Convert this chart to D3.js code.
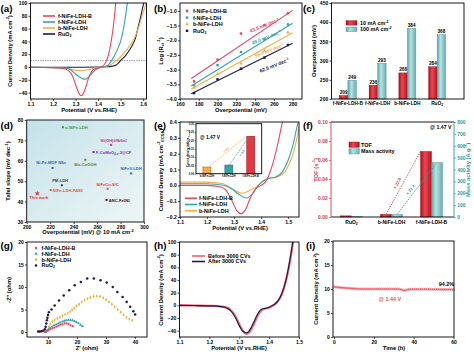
<!DOCTYPE html>
<html>
<head>
<meta charset="utf-8">
<script src="https://cdn.jsdelivr.net/npm/d3@7/dist/d3.min.js"></script>
<style>
html,body{margin:0;padding:0;background:#fff;}
svg{display:block;}
text{font-family:"Liberation Sans",Arial,Helvetica,sans-serif;font-weight:bold;}
</style>
</head>
<body>
<svg id="fig" width="474" height="355"></svg>
<script>
// ================= DATA =================
const seriesNames = ["f-NiFe-LDH-B","f-NiFe-LDH","b-NiFe-LDH","RuO2"];

// (a) LSV polarization curves
const aRedV    = [1.10,1.20,1.24,1.26,1.28,1.29,1.30,1.31,1.32,1.325,1.33,1.34,1.35,1.36,1.37,1.38,1.40,1.42,1.43,1.44,1.45,1.46,1.47,1.48,1.49];
const aRedJ    = [-0.5,-1,-2,-4,-10,-17,-27,-37,-44,-45,-44,-37,-26,-15,-8,-4,-1.5,1,5,12,25,44,70,105,140];
const aTealV   = [1.10,1.20,1.26,1.28,1.30,1.32,1.34,1.345,1.36,1.38,1.40,1.42,1.44,1.45,1.46,1.47,1.48,1.49,1.50,1.51,1.52,1.53,1.54];
const aTealJ   = [-0.5,-1,-2,-5,-11,-16,-19,-19,-15,-7,-2,0,2,5,10,16,23,31,40,55,75,100,125];
const aOrangeV = [1.10,1.20,1.26,1.28,1.30,1.33,1.36,1.38,1.40,1.42,1.44,1.46,1.48,1.50,1.52,1.54,1.555,1.57,1.58,1.59,1.60,1.61,1.62];
const aOrangeJ = [-0.5,-1,-2,-3.5,-5,-5.5,-4,-2,-0.5,0.5,1.5,4,10,16,24,33,41,52,62,73,85,96,108];
const aNavyV   = [1.10,1.20,1.30,1.40,1.44,1.46,1.48,1.49,1.50,1.52,1.54,1.555,1.565,1.575,1.585,1.595,1.60,1.61,1.62];
const aNavyJ   = [-0.5,-0.5,-0.5,0,0.3,1,3,6,10,17,27,36,44,58,72,88,96,110,124];
const aRefJ = 10;

// (b) Tafel-like plot
const bEta    = [175,200,225,250,275];
const bRed    = [-3.40,-2.66,-1.77,-1.48,-1.08];
const bTeal   = [-3.53,-2.85,-2.40,-1.97,-1.46];
const bOrange = [-3.61,-3.15,-2.79,-2.35,-1.73];
const bNavy   = [-3.80,-3.33,-2.97,-2.59,-2.16];
const bFitEta = [172,280];
const bRedFit = [-3.30,-0.98];
const bTealFit = [-3.56,-1.42];
const bOrangeFit = [-3.66,-1.74];
const bNavyFit = [-3.82,-2.10];
const bSlopes = ["43.5","49.0","55.4","62.5"];

// (c) overpotential bars
const cCats = ["f-NiFe-LDH-B","f-NiFe-LDH","b-NiFe-LDH","RuO2"];
const c10  = [209,236,268,284];
const c100 = [249,293,384,368];

// (d) comparison scatter
const dNames = ["This work","α-NiFe-LDH","Ni(OH)2/NiSe2","F-CoMoO4-x-3@CF","Ni-Fe-MOF NSs","Mo-CoOOH","NiFeV-LDH","PM-LDH","NiFe-LDH-PA80","NiFeCo-S/C","ANC-Fe5N2"];
const dEta   = [209,231,272,257,222,250,289,230,220.5,269,268];
const dTafel = [44,76.5,67.8,64.3,56.5,60.5,53.8,48,45.7,46.3,40.8];

// (e) ECSA-normalized LSV
const eRedV    = [1.10,1.20,1.25,1.27,1.29,1.31,1.325,1.34,1.36,1.38,1.40,1.42,1.43,1.44,1.45,1.46,1.47,1.48,1.49];
const eRedJ    = [0.0,0.0,-0.01,-0.03,-0.09,-0.16,-0.18,-0.16,-0.08,-0.02,0.0,0.03,0.07,0.12,0.18,0.25,0.33,0.41,0.5];
const eTealV   = [1.10,1.20,1.26,1.29,1.32,1.345,1.37,1.39,1.41,1.43,1.45,1.47,1.48,1.49,1.50,1.51,1.52,1.53,1.54];
const eTealJ   = [0.01,0.01,0.0,-0.02,-0.06,-0.08,-0.05,0.0,0.03,0.045,0.05,0.07,0.09,0.12,0.16,0.21,0.27,0.35,0.42];
const eOrangeV = [1.10,1.20,1.26,1.29,1.33,1.36,1.39,1.41,1.43,1.45,1.47,1.49,1.50,1.51,1.52,1.53,1.54,1.55];
const eOrangeJ = [0.02,0.02,0.01,-0.02,-0.05,-0.03,0.0,0.03,0.045,0.05,0.06,0.09,0.12,0.16,0.21,0.28,0.36,0.44];
const eInsetCats = ["b-NiFe-LDH","f-NiFe-LDH","f-NiFe-LDH-B"];
const eInsetVals = [0.040,0.052,0.225];
const eRatios = ["× 5.0","× 4.3"];

// (f) TOF and mass activity
const fCats = ["RuO2","b-NiFe-LDH","f-NiFe-LDH-B"];
const fTOF  = [0.0012,0.0028,0.069];
const fMass = [2,22,460];
const fRatios = ["× 22.8","× 21.4"];

// (g) Nyquist plots
const gRedZ    = [9.0,9.5,10.1,10.8,11.5,12.2,12.9,13.6,14.3,15.0,15.7,16.4,17.1,17.8,18.5];
const gRedZ2   = [0.0,0.2,0.4,0.6,0.8,1.0,1.2,1.4,1.6,1.7,1.9,1.9,1.8,1.5,1.3];
const gTealZ   = [9.2,9.6,10.1,10.7,11.4,12.1,12.8,13.5,14.2,14.9,15.6,16.3,17.0,17.7,18.4,19.1,19.8,20.5,21.2,21.9];
const gTealZ2  = [0.0,0.3,0.6,0.9,1.2,1.5,1.7,1.9,2.1,2.3,2.5,2.6,2.7,2.7,2.6,2.4,2.2,1.9,1.6,1.3];
const gOrangeZ = [10.0,10.3,10.8,11.5,12.3,13.2,14.1,15.0,15.9,16.8,17.6,18.3,19.0,19.8,20.7,21.6,22.6,23.6,24.6,25.7,26.8,27.9,29.0,30.0,31.0,32.0,33.0,34.0,35.0,36.0,37.0,38.0,39.0];
const gOrangeZ2= [0.3,1.2,1.8,2.3,2.7,3.0,3.3,3.6,3.9,4.2,4.5,4.9,5.3,5.8,6.2,6.7,7.1,7.4,7.7,7.9,8.0,7.9,7.6,7.2,6.7,6.2,5.6,5.0,4.4,3.8,3.3,2.9,2.6];
const gNavyZ   = [6.6,7.2,7.8,8.4,8.9,9.2,9.4,9.6,9.8,10.0,10.3,11.2,12.3,13.8,15.4,17.3,19.2,21.3,23.5,25.8,28.1,30.2,32.3,33.9,35.7,37.1,38.3,39.4,40.0];
const gNavyZ2  = [0.1,0.1,0.2,0.3,0.6,1.2,1.9,2.6,3.2,3.8,4.4,5.0,5.9,7.0,8.1,9.3,10.4,11.1,11.9,11.9,11.5,11.0,10.0,8.9,7.8,6.7,5.6,4.6,3.9];

// (h) before / after 3000 CVs
const hV       = [1.10,1.15,1.20,1.24,1.26,1.27,1.28,1.29,1.30,1.31,1.32,1.325,1.33,1.34,1.35,1.36,1.37,1.38,1.39,1.40,1.41,1.42,1.43,1.44,1.45,1.46,1.47,1.48,1.49];
const hBeforeJ = [0,-0.3,-0.8,-2,-4,-7,-12,-20,-30,-39,-44,-45,-44,-38,-28,-18,-10,-6,-5,-3.5,-1,2,7,15,28,46,70,100,130];
const hAfterJ  = [0,-0.3,-0.8,-2,-4.5,-8,-14,-22,-32,-40,-43,-43.5,-42,-35,-25,-15,-8,-5,-4.5,-3,-0.5,2.5,7.5,16,29,48,73,103,133];
const hNames = ["Before 3000 CVs","After 3000 CVs"];

// (i) chronoamperometry
const iTime = [0,1,2,3,4,5,6,7,8,9,10,11,12,13,14,15,16,17,18,19,20,21,22,23,24,25,26,27,28,29,30,31,32,33,34,35,36,37,38,39,40,41,42,43,44,45,46,47,48,49,50,51,52,53,54,55,56,57,58,59,60];
const iJ = [10.45,10.40,10.35,10.30,10.28,10.25,10.20,10.18,10.15,10.10,
            10.08,10.05,10.03,10.00,10.00,10.00,10.00,10.00,10.00,10.00,
            10.00,10.00,10.00,10.00,10.00,10.00,10.00,10.00,10.00,10.00,
            10.00,10.00,10.00,9.95,9.85,9.72,9.75,9.88,9.95,9.95,
            9.95,9.95,9.95,9.95,9.95,9.95,9.95,9.95,9.95,9.95,
            9.92,9.92,9.92,9.92,9.90,9.90,9.90,9.90,9.90,9.88,9.85];

// ================= DRAWING =================
const svg = d3.select("#fig");
const COL = {red:"#e8455f", teal:"#35a4a6", orange:"#f4ae45", navy:"#1d1b4c"};
const sCol = [COL.red, COL.teal, COL.orange, COL.navy];
const TICK = 5, TITLE = 5.8, PLAB = 9.8, LEG = 5.4;
const defs = svg.append("defs");

function rich(sel, parts, fs) {
  let cur = 0;
  parts.forEach(p => {
    const s = Array.isArray(p) ? p[0] : p;
    const m = Array.isArray(p) ? p[1] : null;
    const target = m === "sup" ? -fs*0.38 : m === "sub" ? fs*0.22 : 0;
    sel.append("tspan").attr("dy", (target-cur).toFixed(2)).attr("font-size", m ? fs*0.68 : fs).text(s);
    cur = target;
  });
  return sel;
}
function txt(g, x, y, parts, fs, opt = {}) {
  const t = g.append("text").attr("x", x).attr("y", y).attr("font-size", fs)
    .attr("text-anchor", opt.anchor || "start").attr("fill", opt.fill || "#000");
  if (opt.rotate != null) t.attr("transform", `rotate(${opt.rotate},${x},${y})`);
  rich(t, typeof parts === "string" ? [parts] : parts, fs);
  return t;
}
function label(name) {
  const map = {
    "RuO2": ["RuO", ["2","sub"]],
    "Ni(OH)2/NiSe2": ["Ni(OH)", ["2","sub"], "/NiSe", ["2","sub"]],
    "F-CoMoO4-x-3@CF": ["F-CoMoO", ["4-x","sub"], "-3@CF"],
    "ANC-Fe5N2": ["ANC-Fe", ["5","sub"], "N", ["2","sub"]]
  };
  return map[name] || [name];
}
let clipN = 0;
function clip(frame) {
  const id = "clip" + (clipN++);
  defs.append("clipPath").attr("id", id).append("rect")
    .attr("x", frame[0]).attr("y", frame[1]).attr("width", frame[2]-frame[0]).attr("height", frame[3]-frame[1]);
  return `url(#${id})`;
}
function styleAxis(a, color) {
  a.select(".domain").remove();
  a.selectAll("line").attr("stroke", color || "#000").attr("stroke-width", 0.7);
  a.selectAll("text").attr("font-size", TICK).attr("fill", color || "#000");
}
function drawAxes(g, x, y, frame, o) {
  const [x0, y0, x1, y1] = frame;
  let gx = null;
  if (!o.noX) {
    const ax = d3.axisBottom(x).tickSize(2).tickPadding(1.3);
    if (o.xTicks) ax.tickValues(o.xTicks);
    if (o.xFmt) ax.tickFormat(o.xFmt);
    gx = g.append("g").attr("transform", `translate(0,${y1})`).call(ax);
    styleAxis(gx);
  }
  if (y) {
    const ay = d3.axisLeft(y).tickSize(2).tickPadding(1.3).tickValues(o.yTicks).tickFormat(o.yFmt);
    const gy = g.append("g").attr("transform", `translate(${x0},0)`).call(ay);
    styleAxis(gy, o.yColor);
  }
  return gx;
}
function bandLabels(g, x, cats, yBase, fs) {
  cats.forEach(c => txt(g, x(c) + x.bandwidth()/2, yBase, label(c), fs, {anchor:"middle"}));
}
function frameRect(g, frame, fill) {
  g.append("rect").attr("x", frame[0]).attr("y", frame[1])
    .attr("width", frame[2]-frame[0]).attr("height", frame[3]-frame[1])
    .attr("fill", fill || "none").attr("stroke", "#000").attr("stroke-width", 0.9);
}
const f1 = d3.format(".1f");

// ---------- (a) ----------
{
  const g = svg.append("g");
  const F = [30.5, 3, 146.5, 99];
  const x = d3.scaleLinear([1.1, 1.615], [F[0], F[2]]);
  const y = d3.scaleLinear([-50, 100], [F[3], F[1]]);
  drawAxes(g, x, y, F, {xTicks:[1.1,1.2,1.3,1.4,1.5,1.6], xFmt:f1, yTicks:[-40,-20,0,20,40,60,80,100], yFmt:d3.format("d")});
  const cp = clip(F);
  g.append("line").attr("x1", F[0]).attr("x2", F[2]).attr("y1", y(aRefJ)).attr("y2", y(aRefJ))
    .attr("stroke", "#777").attr("stroke-width", 0.8).attr("stroke-dasharray", "1.4,1");
  const line = d3.line().x(d => x(d[0])).y(d => y(d[1])).curve(d3.curveMonotoneX);
  const sets = [[aNavyV,aNavyJ,3],[aOrangeV,aOrangeJ,2],[aTealV,aTealJ,1],[aRedV,aRedJ,0]];
  sets.forEach(([V,J,k]) => g.append("path").attr("d", line(d3.zip(V,J))).attr("fill","none")
    .attr("stroke", sCol[k]).attr("stroke-width", 1.1).attr("clip-path", cp));
  seriesNames.forEach((n,i) => {
    const yy = 16 + i*6;
    g.append("line").attr("x1",43).attr("x2",55).attr("y1",yy).attr("y2",yy).attr("stroke",sCol[i]).attr("stroke-width",1.6);
    txt(g, 58, yy+1.9, label(n), LEG);
  });
  frameRect(g, F);
  txt(g, 11.5, 51, ["Current Density (mA cm", ["-2","sup"], ")"], TITLE, {anchor:"middle", rotate:-90});
  txt(g, 89, 111.5, "Potential (V vs.RHE)", TITLE, {anchor:"middle"});
  txt(g, 0.5, 11.5, "(a)", PLAB);
}

// ---------- (b) ----------
{
  const g = svg.append("g");
  const F = [180, 3, 302, 99];
  const x = d3.scaleLinear([160, 290], [F[0], F[2]]);
  const y = d3.scaleLinear([-4, -0.73], [F[3], F[1]]);
  drawAxes(g, x, y, F, {xTicks:[160,180,200,220,240,260,280], xFmt:d3.format("d"), yTicks:[-4,-3.5,-3,-2.5,-2,-1.5,-1], yFmt:f1});
  const fits = [bRedFit, bTealFit, bOrangeFit, bNavyFit];
  const pts = [bRed, bTeal, bOrange, bNavy];
  const syms = [d3.symbolCircle, d3.symbolSquare, d3.symbolTriangle, d3.symbolSquare];
  fits.forEach((fv,i) => g.append("line").attr("x1", x(bFitEta[0])).attr("x2", x(bFitEta[1]))
    .attr("y1", y(fv[0])).attr("y2", y(fv[1])).attr("stroke", sCol[i]).attr("stroke-width", 1.1));
  pts.forEach((p,i) => p.forEach((v,j) => g.append("path").attr("d", d3.symbol(syms[i], 6)())
    .attr("transform", `translate(${x(bEta[j])},${y(v)})`).attr("fill", sCol[i])));
  const lp = [[265,27],[267,39],[270,52],[275,67]];
  bSlopes.forEach((s,i) => txt(g, lp[i][0], lp[i][1], [s + " mV dec", ["-1","sup"]], 4.9, {anchor:"middle", rotate:-22, fill:sCol[i]}));
  seriesNames.forEach((n,i) => {
    const yy = 11 + i*6.6;
    g.append("path").attr("d", d3.symbol(syms[i], 6)()).attr("transform", `translate(187,${yy})`).attr("fill", sCol[i]);
    txt(g, 193, yy+1.9, label(n), LEG);
  });
  frameRect(g, F);
  txt(g, 162.5, 51, ["Log (R", ["ct","sub"], ["-1","sup"], ")"], TITLE, {anchor:"middle", rotate:-90});
  txt(g, 241, 111.5, "Overpotential (mV)", TITLE, {anchor:"middle"});
  txt(g, 154, 11.5, "(b)", PLAB);
}

// ---------- (c) ----------
{
  const g = svg.append("g");
  const F = [331.5, 3, 464, 99];
  const x = d3.scaleBand(cCats, [333, 452]);
  const sub = d3.scaleBand([0,1], [0, x.bandwidth()]).paddingOuter(0.75).paddingInner(0);
  const y = d3.scaleLinear([200, 450], [F[3], F[1]]);
  drawAxes(g, x, y, F, {noX:true, yTicks:[200,250,300,350,400,450], yFmt:d3.format("d")});
  bandLabels(g, x, cCats, F[3] + 6.3, 4.8);
  const mkGrad = (id, a, b, c) => {
    const gr = defs.append("linearGradient").attr("id", id).attr("x1","0").attr("x2","1").attr("y1","0").attr("y2","0");
    gr.append("stop").attr("offset","0").attr("stop-color",a);
    gr.append("stop").attr("offset","0.4").attr("stop-color",b);
    gr.append("stop").attr("offset","1").attr("stop-color",c);
  };
  mkGrad("gRed", "#a5121d", "#ef4652", "#b4151f");
  mkGrad("gTeal", "#5fa7a9", "#b6e2e2", "#66afb1");
  const sets = [[c10,"url(#gRed)","#8a1018"],[c100,"url(#gTeal)","#4a8f91"]];
  sets.forEach(([vals,fill,st],k) => vals.forEach((v,i) => {
    const bx = x(cCats[i]) + sub(k);
    g.append("rect").attr("x", bx).attr("y", y(v)).attr("width", sub.bandwidth()).attr("height", y(200)-y(v))
      .attr("fill", fill).attr("stroke", st).attr("stroke-width", 0.4);
    txt(g, bx + sub.bandwidth()/2, y(v) - 1.5, String(v), 4.7, {anchor:"middle"});
  }));
  g.append("rect").attr("x",346).attr("y",20.7).attr("width",11).attr("height",4.4).attr("fill","url(#gRed)").attr("stroke","#8a1018").attr("stroke-width",0.4);
  g.append("rect").attr("x",346).attr("y",27.3).attr("width",11).attr("height",4.4).attr("fill","url(#gTeal)").attr("stroke","#4a8f91").attr("stroke-width",0.4);
  txt(g, 360, 24.8, ["10 mA cm", ["-2","sup"]], LEG);
  txt(g, 360, 31.4, ["100 mA cm", ["-2","sup"]], LEG);
  frameRect(g, F);
  txt(g, 316, 51, "Overpotential (mV)", TITLE, {anchor:"middle", rotate:-90});
  txt(g, 303, 11.5, "(c)", PLAB);
}

// ---------- (d) ----------
{
  const g = svg.append("g");
  const F = [26.7, 120, 144, 222];
  const x = d3.scaleLinear([200, 300], [F[0], F[2]]);
  const y = d3.scaleLinear([30, 80], [F[3], F[1]]);
  const gr = defs.append("linearGradient").attr("id","gBg").attr("x1","0").attr("y1","0").attr("x2","1").attr("y2","1");
  gr.append("stop").attr("offset","0").attr("stop-color","#c4e2ea");
  gr.append("stop").attr("offset","1").attr("stop-color","#eef6f6");
  g.append("rect").attr("x",F[0]).attr("y",F[1]).attr("width",F[2]-F[0]).attr("height",F[3]-F[1]).attr("fill","url(#gBg)");
  drawAxes(g, x, y, F, {xTicks:[200,220,240,260,280,300], xFmt:d3.format("d"), yTicks:[30,40,50,60,70,80], yFmt:d3.format("d")});
  const dCol = ["#e8302f","#3a9a3a","#c92f8c","#7a2fbd","#2f5fbf","#6b7a1f","#2f5fbf","#3a3a3a","#e8582f","#e8403f","#4a0808"];
  const lay = [[-8,5.5,"start"],[2,1.6,"start"],[2.5,-3.3,"middle"],[2.3,1.6,"start"],[-1.3,-4.3,"middle"],[0,6.6,"middle"],[0,-3.4,"middle"],[-1.8,-3.2,"middle"],[2,1.6,"start"],[0,-3.2,"middle"],[2.3,1.6,"start"]];
  dNames.forEach((n,i) => {
    const px = x(dEta[i]), py = y(dTafel[i]);
    const sym = i === 0 ? d3.symbol(d3.symbolStar, 9)() : d3.symbol(d3.symbolSquare, 4)();
    g.append("path").attr("d", sym).attr("transform", `translate(${px},${py})`).attr("fill", dCol[i]);
    txt(g, px + lay[i][0], py + lay[i][1], label(n), 4.1, {anchor: lay[i][2], fill: dCol[i]});
  });
  frameRect(g, F);
  txt(g, 10, 171, ["Tafel slope (mV dec", ["-1","sup"], ")"], TITLE, {anchor:"middle", rotate:-90});
  txt(g, 88, 234, ["Overpotential (mV) @ 10 mA cm", ["-2","sup"]], TITLE, {anchor:"middle"});
  txt(g, 0.5, 128.5, "(d)", PLAB);
}

// ---------- (e) ----------
{
  const g = svg.append("g");
  const F = [180, 122, 299, 217];
  const x = d3.scaleLinear([1.1, 1.54], [F[0], F[2]]);
  const y = d3.scaleLinear([-0.2, 0.4], [F[3], F[1]]);
  drawAxes(g, x, y, F, {xTicks:[1.1,1.2,1.3,1.4,1.5], xFmt:f1, yTicks:[-0.2,-0.1,0,0.1,0.2,0.3,0.4], yFmt:f1});
  const cp = clip(F);
  const line = d3.line().x(d => x(d[0])).y(d => y(d[1])).curve(d3.curveMonotoneX);
  [[eOrangeV,eOrangeJ,2],[eTealV,eTealJ,1],[eRedV,eRedJ,0]].forEach(([V,J,k]) =>
    g.append("path").attr("d", line(d3.zip(V,J))).attr("fill","none").attr("stroke",sCol[k]).attr("stroke-width",1.1).attr("clip-path",cp));
  seriesNames.slice(0,3).forEach((n,i) => {
    const yy = 198.3 + i*6.2;
    g.append("line").attr("x1",185).attr("x2",197).attr("y1",yy).attr("y2",yy).attr("stroke",sCol[i]).attr("stroke-width",1.6);
    txt(g, 199, yy+1.9, label(n), LEG);
  });
  // inset
  const IF = [196, 123.7, 261.7, 173.7];
  g.append("rect").attr("x",IF[0]).attr("y",IF[1]).attr("width",IF[2]-IF[0]).attr("height",IF[3]-IF[1]).attr("fill","#fff");
  const xi = d3.scaleBand(eInsetCats, [IF[0], IF[2]]);
  const yi = d3.scaleLinear([0, 0.30], [IF[3], IF[1]]);
  const ay = d3.axisLeft(yi).tickValues([0,0.05,0.10,0.15,0.20,0.25,0.30]).tickFormat(d3.format(".2f")).tickSize(1.3).tickPadding(0.8);
  const gy = g.append("g").attr("transform",`translate(${IF[0]},0)`).call(ay);
  gy.select(".domain").remove(); gy.selectAll("line").attr("stroke","#000").attr("stroke-width",0.5); gy.selectAll("text").attr("font-size",2.7);
  const iCol = [COL.orange, COL.teal, "#e8383f"];
  const iSt = ["#8a5a10", "#1f5f60", "#8a1018"];
  const bw = 8;
  eInsetCats.forEach((c,i) => {
    const cx = xi(c) + xi.bandwidth()/2;
    g.append("rect").attr("x",cx-bw/2).attr("y",yi(eInsetVals[i])).attr("width",bw).attr("height",yi(0)-yi(eInsetVals[i]))
      .attr("fill",iCol[i]).attr("stroke",iSt[i]).attr("stroke-width",0.5);
    txt(g, cx, IF[3]+3.3, c, 2.6, {anchor:"middle"});
  });
  const cR = xi(eInsetCats[2]) + xi.bandwidth()/2;
  const top = yi(eInsetVals[2]);
  [[0,-0.3],[1,0.8]].forEach(([i,off]) => {
    const cx = xi(eInsetCats[i]) + xi.bandwidth()/2 + (i===0?1.5:0.5);
    const x1 = cx, y1 = yi(eInsetVals[i]), x2 = cR - bw/2 + off + (i===1?2:0), y2 = top;
    g.append("line").attr("x1",x1).attr("y1",y1).attr("x2",x2).attr("y2",y2).attr("stroke",iCol[i]).attr("stroke-width",0.8).attr("stroke-dasharray","1.3,0.8");
    const ang = Math.atan2(y2-y1, x2-x1)*180/Math.PI;
    const mx = (x1+x2)/2 + (i===0?-0.5:3.5), my = (y1+y2)/2 + (i===0?-0.8:3);
    txt(g, mx, my, eRatios[i], 3.2, {anchor:"middle", rotate:ang, fill:iCol[i]});
  });
  frameRect(g, IF);
  txt(g, 200, 139, "@ 1.47 V", 4.8);
  txt(g, 189.5, 148.7, ["Current density (mA cm", ["-2","sup"], ["ECSA","sub"], ")"], 2.6, {anchor:"middle", rotate:-90});
  frameRect(g, F);
  txt(g, 162.5, 170, ["Current Density (mA cm", ["-2","sup"], ["ECSA","sub"], ")"], TITLE, {anchor:"middle", rotate:-90});
  txt(g, 240, 229.5, "Potential (V vs.RHE)", TITLE, {anchor:"middle"});
  txt(g, 154, 128.5, "(e)", PLAB);
}

// ---------- (f) ----------
{
  const g = svg.append("g");
  const F = [331, 122, 454, 217];
  const x = d3.scaleBand(fCats, [331.5, 451.5]);
  const y = d3.scaleLinear([0, 0.10], [F[3], F[1]]);
  const y2 = d3.scaleLinear([0, 800], [F[3], F[1]]);
  const RC = "#e0394a", TC = "#2a9d9e";
  drawAxes(g, x, y, F, {noX:true, yTicks:[0,0.02,0.04,0.06,0.08,0.10], yFmt:d3.format(".2f"), yColor:RC});
  bandLabels(g, x, fCats, F[3] + 7, 5);
  const ar = d3.axisRight(y2).tickValues([0,100,200,300,400,500,600,700,800]).tickFormat(d3.format("d")).tickSize(2).tickPadding(1.3);
  const gr = g.append("g").attr("transform",`translate(${F[2]},0)`).call(ar);
  styleAxis(gr, TC);
  const bw = 11;
  fCats.forEach((c,i) => {
    const cx = x(c) + x.bandwidth()/2;
    g.append("rect").attr("x",cx-bw).attr("y",y(fTOF[i])).attr("width",bw).attr("height",y(0)-y(fTOF[i]))
      .attr("fill","url(#gRed)").attr("stroke","#8a1018").attr("stroke-width",0.4);
    g.append("rect").attr("x",cx).attr("y",y2(fMass[i])).attr("width",bw).attr("height",y2(0)-y2(fMass[i]))
      .attr("fill","url(#gTeal)").attr("stroke","#4a8f91").attr("stroke-width",0.4);
  });
  const cB = x(fCats[1]) + x.bandwidth()/2, cF = x(fCats[2]) + x.bandwidth()/2;
  const lines = [
    [cB - bw/2, y(fTOF[1]), cF - bw, y(fTOF[2]), RC, 0],
    [cB + bw/2, y2(fMass[1]), cF + bw/2, y2(fMass[2]), TC, 1]
  ];
  lines.forEach(([x1,y1,x2,y2_,c,k]) => {
    g.append("line").attr("x1",x1).attr("y1",y1).attr("x2",x2).attr("y2",y2_).attr("stroke",c).attr("stroke-width",0.8).attr("stroke-dasharray","1.6,1");
    const ang = Math.atan2(y2_-y1, x2-x1)*180/Math.PI;
    const mx = k===0 ? 398.5 : 411.5, my = k===0 ? 184 : 190.5;
    txt(g, mx, my, fRatios[k], 4.2, {anchor:"middle", rotate:ang, fill:c});
  });
  g.append("rect").attr("x",349).attr("y",142).attr("width",10.3).attr("height",5.3).attr("fill","url(#gRed)").attr("stroke","#8a1018").attr("stroke-width",0.4);
  g.append("rect").attr("x",349).attr("y",148.7).attr("width",10.3).attr("height",5.3).attr("fill","url(#gTeal)").attr("stroke","#4a8f91").attr("stroke-width",0.4);
  txt(g, 361, 146.6, "TOF", LEG);
  txt(g, 361, 153.3, "Mass activity", LEG);
  txt(g, 451.5, 129, "@ 1.47 V", 5.2, {anchor:"end"});
  g.append("line").attr("x1",F[0]).attr("x2",F[2]).attr("y1",F[1]).attr("y2",F[1]).attr("stroke","#000").attr("stroke-width",0.9);
  g.append("line").attr("x1",F[0]).attr("x2",F[2]).attr("y1",F[3]).attr("y2",F[3]).attr("stroke","#000").attr("stroke-width",0.9);
  g.append("line").attr("x1",F[0]).attr("x2",F[0]).attr("y1",F[1]).attr("y2",F[3]).attr("stroke",RC).attr("stroke-width",0.9);
  g.append("line").attr("x1",F[2]).attr("x2",F[2]).attr("y1",F[1]).attr("y2",F[3]).attr("stroke",TC).attr("stroke-width",0.9);
  txt(g, 317.5, 170, ["TOF (s", ["-1","sup"], ")"], TITLE, {anchor:"middle", rotate:-90, fill:RC});
  txt(g, 469.5, 170, ["Mass activity (A g", ["-1","sup"], ")"], TITLE, {anchor:"middle", rotate:-90, fill:TC});
  txt(g, 303, 128.5, "(f)", PLAB);
}

// ---------- (g) ----------
{
  const g = svg.append("g");
  const F = [27, 242, 147, 337];
  const x = d3.scaleLinear([2.76, 44.1], [F[0], F[2]]);
  const y = d3.scaleLinear([-1.1, 20], [F[3], F[1]]);
  drawAxes(g, x, y, F, {xTicks:[10,20,30,40], xFmt:d3.format("d"), yTicks:[0,5,10,15,20], yFmt:d3.format("d")});
  const syms = [d3.symbolCircle, d3.symbolTriangle, d3.symbolDiamond, d3.symbolCircle];
  const sz = [4, 4, 4, 5];
  const sets = [[gNavyZ,gNavyZ2,3],[gOrangeZ,gOrangeZ2,2],[gTealZ,gTealZ2,1],[gRedZ,gRedZ2,0]];
  sets.forEach(([Z,Z2,k]) => Z.forEach((z,j) => g.append("path").attr("d", d3.symbol(syms[k], sz[k])())
    .attr("transform", `translate(${x(z)},${y(Z2[j])})`).attr("fill", sCol[k])));
  seriesNames.forEach((n,i) => {
    const yy = 248 + i*5.8;
    g.append("path").attr("d", d3.symbol(syms[i], 5)()).attr("transform", `translate(36,${yy})`).attr("fill", sCol[i]);
    txt(g, 41.5, yy+1.9, label(n), LEG);
  });
  frameRect(g, F);
  txt(g, 11, 290, "-Z'' (ohm)", TITLE, {anchor:"middle", rotate:-90});
  txt(g, 87, 350, "Z' (ohm)", TITLE, {anchor:"middle"});
  txt(g, 0.5, 248.5, "(g)", PLAB);
}

// ---------- (h) ----------
{
  const g = svg.append("g");
  const F = [179.5, 242, 299, 337];
  const x = d3.scaleLinear([1.1, 1.5], [F[0], F[2]]);
  const y = d3.scaleLinear([-50, 100], [F[3], F[1]]);
  drawAxes(g, x, y, F, {xTicks:[1.1,1.2,1.3,1.4,1.5], xFmt:f1, yTicks:[-40,-20,0,20,40,60,80,100], yFmt:d3.format("d")});
  const cp = clip(F);
  const line = d3.line().x(d => x(d[0])).y(d => y(d[1])).curve(d3.curveMonotoneX);
  const hc = ["#f0606e", COL.navy];
  g.append("path").attr("d", line(d3.zip(hV,hBeforeJ))).attr("fill","none").attr("stroke",hc[0]).attr("stroke-width",2.2).attr("clip-path",cp);
  g.append("path").attr("d", line(d3.zip(hV,hAfterJ))).attr("fill","none").attr("stroke",hc[1]).attr("stroke-width",1.1).attr("clip-path",cp);
  hNames.forEach((n,i) => {
    const yy = 256 + i*5.5;
    g.append("line").attr("x1",192).attr("x2",205).attr("y1",yy).attr("y2",yy).attr("stroke",hc[i]).attr("stroke-width",1.6);
    txt(g, 208, yy+1.9, n, LEG);
  });
  frameRect(g, F);
  txt(g, 162.5, 290, ["Current Density (mA cm", ["-2","sup"], ")"], TITLE, {anchor:"middle", rotate:-90});
  txt(g, 239, 350, "Potential (V vs.RHE)", TITLE, {anchor:"middle"});
  txt(g, 154, 248.5, "(h)", PLAB);
}

// ---------- (i) ----------
{
  const g = svg.append("g");
  const F = [333, 241, 454, 337];
  const x = d3.scaleLinear([0, 60], [334, 453.5]);
  const y = d3.scaleLinear([0, 20], [F[3], F[1]]);
  drawAxes(g, x, y, F, {xTicks:[0,20,40,60], xFmt:d3.format("d"), yTicks:[0,5,10,15,20], yFmt:d3.format("d")});
  const IC = "#e8505c";
  const line = d3.line().x(d => x(d[0])).y(d => y(d[1]));
  g.append("path").attr("d", line(d3.zip(iTime,iJ))).attr("fill","none").attr("stroke",IC).attr("stroke-width",0.9);
  iTime.forEach((t,j) => g.append("circle").attr("cx",x(t)).attr("cy",y(iJ[j])).attr("r",1.1)
    .attr("fill","none").attr("stroke",IC).attr("stroke-width",0.5));
  txt(g, 446.5, 285.5, "94.2%", 5.4, {anchor:"middle"});
  txt(g, 390, 301, "@ 1.44 V", 5.4, {anchor:"middle", fill:IC});
  frameRect(g, F);
  txt(g, 318, 289, ["Current Density (mA cm", ["-2","sup"], ")"], TITLE, {anchor:"middle", rotate:-90});
  txt(g, 394, 350, "Time (h)", TITLE, {anchor:"middle"});
  txt(g, 306, 248.5, "(i)", PLAB);
}
</script>
</body>
</html>
